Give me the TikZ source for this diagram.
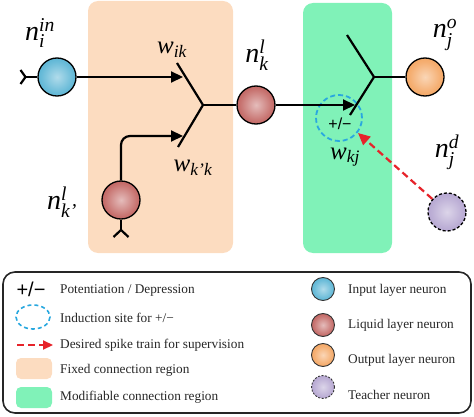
\documentclass[tikz,border=0pt]{standalone}
\usepackage{fontspec}
\usepackage{amsmath}
\setmainfont{Liberation Serif}
\newfontfamily\sansf{Liberation Sans}
\usetikzlibrary{arrows.meta}
\definecolor{peach}{HTML}{FCDCC0}
\definecolor{mint}{HTML}{80F2B8}
\definecolor{cin}{HTML}{3AA6CC}
\definecolor{cliq}{HTML}{B3403C}
\definecolor{cout}{HTML}{F2984A}
\definecolor{cteach}{HTML}{A795C8}
\definecolor{cdash}{HTML}{29A8DF}
\definecolor{cred}{HTML}{E6232A}
\pgfdeclareradialshading{shin}{\pgfpoint{0bp}{0bp}}{color(0bp)=(cin!40!white); color(20bp)=(cin!75!white); color(38bp)=(cin); color(50bp)=(cin!85!black)}
\pgfdeclareradialshading{shliq}{\pgfpoint{0bp}{0bp}}{color(0bp)=(cliq!35!white); color(20bp)=(cliq!72!white); color(38bp)=(cliq); color(50bp)=(cliq!85!black)}
\pgfdeclareradialshading{shout}{\pgfpoint{0bp}{0bp}}{color(0bp)=(cout!40!white); color(20bp)=(cout!78!white); color(38bp)=(cout); color(50bp)=(cout!90!black)}
\pgfdeclareradialshading{shteach}{\pgfpoint{0bp}{0bp}}{color(0bp)=(cteach!40!white); color(20bp)=(cteach!75!white); color(38bp)=(cteach); color(50bp)=(cteach!90!black)}
\tikzset{
  neuron/.style={circle, draw=black, line width=1.3pt, minimum size=38pt, inner sep=0pt},
  lneuron/.style={circle, draw=black!80, line width=0.9pt, minimum size=23pt, inner sep=0pt},
  conn/.style={line width=2.2pt},
  arr/.style={conn, -{Triangle[length=12pt,width=11pt]}},
  redarr/.style={line width=2.2pt, draw=cred, dash pattern=on 7pt off 4pt, -{Triangle[length=12pt,width=11pt]}},
  nlabel/.style={font=\fontsize{28}{30}\selectfont, inner sep=0pt},
  wlabel/.style={font=\fontsize{25}{28}\selectfont, inner sep=0pt},
  legtext/.style={font=\fontsize{13.3}{16}\selectfont, anchor=west, inner sep=0pt, text=black!85},
  region/.style={rounded corners=10pt}
}
\begin{document}
\begin{tikzpicture}[x=1pt,y=-1pt]
\useasboundingbox (0,0) rectangle (474,417);
% regions
\fill[peach, region] (88,1) rectangle (233,253);
\fill[mint, region] (303,3) rectangle (392,253);
% induction site
\node[draw=cdash, dash pattern=on 5pt off 3pt, circle, minimum size=46pt, line width=1.8pt, inner sep=0pt] (site) at (339,118) {};
\node[font=\sansf\fontsize{16}{16}\selectfont, inner sep=0pt] (pm) at (340,124) {+/−};
% neurons
\node[neuron, shading=shin] (nin) at (57,77) {};
\node[neuron, shading=shliq] (nk) at (256,105) {};
\node[neuron, shading=shliq] (nkp) at (121,200) {};
\node[neuron, shading=shout] (no) at (425,77) {};
\node[neuron, shading=shteach, dash pattern=on 3pt off 2pt] (nd) at (447,212) {};
% coordinates
\coordinate (ta1) at (20.5,70);
\coordinate (ta2) at (20.5,84);
\coordinate (ta0) at (25.5,77);
\coordinate (tk1) at (113.5,237);
\coordinate (tk2) at (128.5,237);
\coordinate (tk0) at (121,230);
\coordinate (s1a) at (177,63);
\coordinate (s1c) at (203,105);
\coordinate (s1b) at (178,147);
\coordinate (s2a) at (347,35);
\coordinate (s2c) at (374,77);
\coordinate (s2b) at (350,115);
\coordinate (t1) at (183,77);
\coordinate (t2) at (183,136);
\coordinate (t3) at (355,105);
\coordinate (t4) at (358,133);
% connectors
\draw[conn] (ta1) -- (ta0) -- (ta2);
\draw[conn] (ta0) -- (nin);
\draw[conn] (tk1) -- (tk0) -- (tk2);
\draw[conn] (tk0) -- (nkp);
\draw[arr] (nin) -- (t1);
\draw[arr, rounded corners=9pt] (nkp) |- (t2);
\draw[conn] (s1a) -- (s1c) -- (s1b);
\draw[conn] (s1c) -- (nk);
\draw[arr] (nk) -- (t3);
\draw[conn] (s2a) -- (s2c) -- (s2b);
\draw[conn] (s2c) -- (no);
\draw[redarr] (nd) -- (t4);
% labels
\node[nlabel] (lni) at (40,33) {$\textit{n}_{\textit{i}}^{\textit{in}}$};
\node[wlabel] (lwik) at (172,50) {$\textit{w}_{\textit{ik}}$};
\node[nlabel] (lnk) at (257,55) {$\textit{n}_{\textit{k}}^{\textit{l}}$};
\node[nlabel] (lnkp) at (62,202) {$\textit{n}_{\textit{k'}}^{\textit{l}}$};
\node[wlabel] (lwkk) at (193,168) {$\textit{w}_{\textit{k'k}}$};
\node[nlabel] (lno) at (445,35) {$\textit{n}_{\textit{j}}^{\textit{o}}$};
\node[nlabel] (lnd) at (447,152) {$\textit{n}_{\textit{j}}^{\textit{d}}$};
\node[wlabel] (lwkj) at (345,157) {$\textit{w}_{\textit{kj}}$};
% legend
\draw[line width=1.6pt, draw=black!85, rounded corners=12pt] (3,272) rectangle (471,413);
\node[font=\sansf\fontsize{20}{20}\selectfont, inner sep=0pt] (lpm) at (31,289) {+/−};
\node[legtext] (x1) at (60,291) {Potentiation / Depression};
\draw[draw=cdash, line width=1.6pt, dash pattern=on 4pt off 3pt] (33,317) ellipse [x radius=17, y radius=12];
\node[legtext] (x2) at (60,318) {Induction site for +/−};
\coordinate (la1) at (17,345);
\coordinate (la2) at (53,345);
\draw[redarr, -{Triangle[length=10pt,width=9pt]}] (la1) -- (la2);
\node[legtext] (x3) at (60,345) {Desired spike train for supervision};
\fill[peach, rounded corners=5pt] (16,358) rectangle (52,379);
\node[legtext] (x4) at (60,370) {Fixed connection region};
\fill[mint, rounded corners=5pt] (16,387) rectangle (52,408);
\node[legtext] (x5) at (60,397) {Modifiable connection region};
\node[lneuron, shading=shin] (l1) at (323,289) {};
\node[legtext] (y1) at (348,290) {Input layer neuron};
\node[lneuron, shading=shliq] (l2) at (323,325) {};
\node[legtext] (y2) at (348,325) {Liquid layer neuron};
\node[lneuron, shading=shout] (l3) at (323,355) {};
\node[legtext] (y3) at (348,360) {Output layer neuron};
\node[lneuron, shading=shteach, dash pattern=on 2pt off 1.5pt] (l4) at (323,387) {};
\node[legtext] (y4) at (348,395) {Teacher neuron};
\end{tikzpicture}
\end{document}
